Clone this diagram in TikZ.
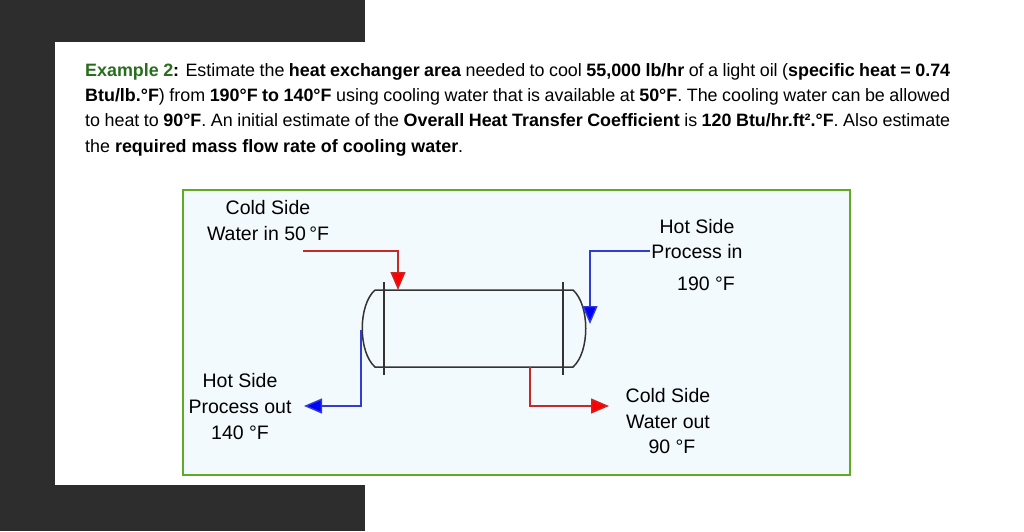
\documentclass[tikz,border=0pt]{standalone}
\usepackage{fontspec}
\setmainfont{Liberation Sans}
\usetikzlibrary{arrows.meta}
\definecolor{dark}{RGB}{45,45,45}
\definecolor{boxg}{RGB}{96,170,40}
\definecolor{boxf}{RGB}{243,250,253}
\definecolor{exg}{RGB}{40,110,30}
\definecolor{hred}{RGB}{200,40,40}
\definecolor{cblue}{RGB}{50,60,210}
\begin{document}
\begin{tikzpicture}[x=1pt,y=-1pt,
  lbl/.style={font=\fontsize{19.5}{25}\selectfont,align=center,inner sep=0pt},
  rl/.style={hred,line width=1.4pt,-{Triangle[width=15pt,length=18pt,fill=red]}},
  bl/.style={cblue,line width=1.4pt,-{Triangle[width=15pt,length=18pt,fill=blue]}},
  vessel/.style={line width=1.5pt,black!80}]
\useasboundingbox (0,0) rectangle (1024,531);
\fill[white] (0,0) rectangle (1024,531);
\fill[dark] (0,0) rectangle (55,531);
\fill[dark] (0,0) rectangle (365,42);
\fill[dark] (0,485) rectangle (365,531);
\node[anchor=north west,inner sep=0pt,text width=865pt,align=justify,
  font=\fontsize{17.9}{25.3}\selectfont] (para) at (85,63)
 {\textbf{\color{exg}Example 2}\textbf{:} Estimate the \textbf{heat exchanger area} needed to cool \textbf{55,000 lb/hr} of a light oil (\textbf{specific heat = 0.74 Btu/lb.°F}) from \textbf{190°F to 140°F} using cooling water that is available at \textbf{50°F}. The cooling water can be allowed to heat to \textbf{90°F}. An initial estimate of the \textbf{Overall Heat Transfer Coefficient} is \textbf{120 Btu/hr.ft².°F}. Also estimate the \textbf{required mass flow rate of cooling water}.};
\draw[boxg,line width=2.5pt,fill=boxf] (183,190) rectangle (850,475);
% vessel
\draw[vessel] (375,290) -- (573,290) .. controls (590,305) and (590,352) .. (573,367) -- (375,367) .. controls (358,352) and (358,305) .. (375,290);
\draw[vessel] (384,282) -- (384,375);
\draw[vessel] (563,282) -- (563,375);
\coordinate (ci0) at (303,251); \coordinate (ci1) at (398,251); \coordinate (ci2) at (398,290);
\coordinate (hi0) at (650,251); \coordinate (hi1) at (590,251); \coordinate (hi2) at (590,324);
\coordinate (ho0) at (361,330); \coordinate (ho1) at (361,406); \coordinate (ho2) at (304,406);
\coordinate (co0) at (530,367); \coordinate (co1) at (530,406); \coordinate (co2) at (609,406);
\draw[rl] (ci0) -- (ci1) -- (ci2);
\draw[bl] (hi0) -- (hi1) -- (hi2);
\draw[bl] (ho0) -- (ho1) -- (ho2);
\draw[rl] (co0) -- (co1) -- (co2);
\node[lbl] (t1) at (268,208) {Cold Side};
\node[lbl] (t2) at (268,234) {Water in 50\,°F};
\node[lbl] (t3) at (697,227) {Hot Side};
\node[lbl] (t4) at (697,252) {Process in};
\node[lbl] (t5) at (706,284) {190 °F};
\node[lbl] (t6) at (240,381) {Hot Side};
\node[lbl] (t7) at (240,407) {Process out};
\node[lbl] (t8) at (240,433) {140 °F};
\node[lbl] (t9) at (668,396) {Cold Side};
\node[lbl] (t10) at (668,422) {Water out};
\node[lbl] (t11) at (672,447) {90 °F};
\end{tikzpicture}
\end{document}
